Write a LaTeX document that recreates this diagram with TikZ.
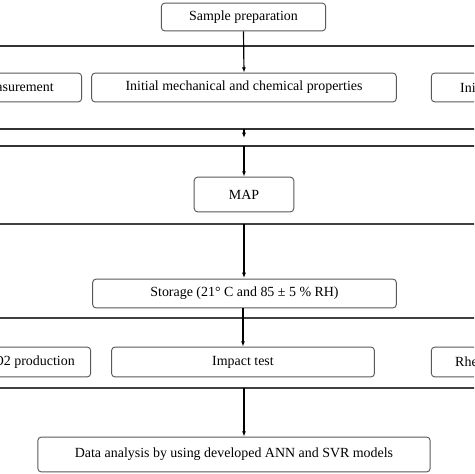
\documentclass[tikz,border=0pt]{standalone}
\usepackage{fontspec}
\setmainfont{Liberation Serif}
\usetikzlibrary{arrows.meta,positioning}

\begin{document}
\begin{tikzpicture}[
  x=0.03cm, y=-0.03cm,
  font=\fontsize{11.9}{13}\selectfont,
  every node/.style={align=center},
  bx/.style={draw=black!65, rounded corners=3pt, fill=white, line width=0.8pt,
             minimum height=25pt, inner sep=0pt},
  rule/.style={draw=black!80, line width=1.1pt},
  thick rule/.style={draw=black!75, line width=1.7pt},
  flow/.style={-{Latex[length=4.5pt,width=3.4pt]}, draw=black, line width=1pt},
]
\useasboundingbox (0,0) rectangle (474,474);
\begin{scope}
\clip (0,0) rectangle (474,474);

% ---- boxes ----
\node[bx, minimum width=165*0.85pt, minimum height=28*0.85pt] (prep) at (243.5,17) {Sample preparation};

\node[bx, minimum width=160*0.85pt, minimum height=29*0.85pt] (meas) at (2,87.5) {};
\node[anchor=east, inner sep=0pt] (meastxt) at (54,87.5) {asurement};
\node[bx, minimum width=306*0.85pt, minimum height=29*0.85pt] (mech) at (244,87.5)
  {Initial mechanical and chemical properties};
\node[bx, minimum width=160*0.85pt, minimum height=29*0.85pt] (init) at (511,87.5) {};
\node[anchor=west, inner sep=0pt] (inittxt) at (460,87.5) {Ini};

\node[bx, minimum width=100*0.85pt, minimum height=35*0.85pt] (map) at (244,194.5) {MAP};
\node[bx, minimum width=305*0.85pt, minimum height=29*0.85pt] (stor) at (244.5,293.5)
  {Storage (21° C and 85 ± 5 \% RH)};

\node[bx, minimum width=160*0.85pt, minimum height=30*0.85pt] (co2) at (11,362) {};
\node[anchor=east, inner sep=0pt] (co2txt) at (75,362) {O2 production};
\node[bx, minimum width=264*0.85pt, minimum height=30*0.85pt] (imp) at (243,362) {Impact test};
\node[bx, minimum width=160*0.85pt, minimum height=30*0.85pt] (rheo) at (511,362) {};
\node[anchor=west, inner sep=0pt] (rheotxt) at (455,362) {Rhe};

\node[bx, minimum width=394*0.85pt, minimum height=35*0.85pt] (data) at (234,454.5)
  {Data analysis by using developed ANN and SVR models};

% ---- brackets across the page ----
\foreach \y/\n in {46/a, 129/b, 146/c}
  \draw[rule] (-5,\y) -- coordinate[pos=0.5] (\n) (479,\y);
\foreach \y/\n in {224/d, 318/e, 388/f}
  \draw[thick rule] (-5,\y) -- coordinate[pos=0.5] (\n) (479,\y);

\coordinate (btip) at (244,138);
\coordinate (cs) at (244,146);
\coordinate (ds) at (244,224);
\coordinate (stortop) at (244,278);
\coordinate (fs) at (244,388);

% ---- connectors ----
\draw[flow] (prep.south) -- (mech.north);
\draw[flow] (244,129) -- (btip);
\draw[flow] (cs) -- (map.north);
\draw[flow] (ds) -- (stortop);
\draw[flow] (stor.south -| imp.north) -- (imp.north);
\draw[flow] (fs) -- (data.north -| fs);
\end{scope}
\end{tikzpicture}
\end{document}
